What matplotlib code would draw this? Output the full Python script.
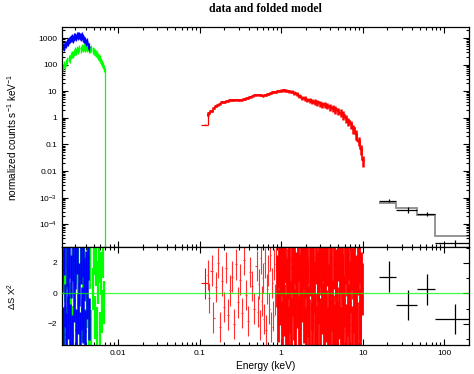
import numpy as np
import matplotlib.pyplot as plt
from matplotlib.ticker import FixedLocator, FixedFormatter, LogLocator, NullFormatter, MultipleLocator

plt.rcParams['font.family'] = ['Liberation Sans', 'DejaVu Sans']
plt.rcParams['mathtext.default'] = 'regular'

# ---- data group 4 (blue) ----
blue_E = [0.00205, 0.00210, 0.00216, 0.00222, 0.00228, 0.00234, 0.00240, 0.00246, 0.00253, 0.00260,
          0.00267, 0.00274, 0.00281, 0.00289, 0.00296, 0.00304, 0.00312, 0.00321, 0.00329, 0.00338,
          0.00347, 0.00356, 0.00366, 0.00375, 0.00385, 0.00396, 0.00406, 0.00417, 0.00428, 0.00440]
blue_flux = [430, 520, 480, 610, 580, 700, 760, 690, 850, 900,
             980, 1050, 960, 1150, 1200, 1100, 1300, 1250, 1350, 1200,
             1150, 1250, 1050, 980, 900, 820, 700, 760, 560, 480]
blue_resid = [1.5, -2.3, 2.6, -0.8, -2.7, 1.9, 0.4, -1.6, 2.4, -2.1,
              1.1, -2.8, 2.2, -0.5, 1.7, -2.4, 2.7, -1.3, 0.6, -2.6,
              2.0, -1.0, 2.5, -1.9, 0.9, -2.5, 1.4, -0.3, 2.3, -1.7]
blue_relerr = 0.3

# ---- data group 3 (green) ----
green_E = [0.00205, 0.00211, 0.00218, 0.00225, 0.00232, 0.00239, 0.00247, 0.00254, 0.00262, 0.00271,
           0.00279, 0.00288, 0.00297, 0.00306, 0.00316, 0.00326, 0.00336, 0.00346, 0.00357, 0.00368,
           0.00380, 0.00392, 0.00404, 0.00417, 0.00430, 0.00443, 0.00457, 0.00471, 0.00486, 0.00501,
           0.00517, 0.00533, 0.00550, 0.00567, 0.00585, 0.00603, 0.00622, 0.00641, 0.00661, 0.00680]
green_flux = [95, 80, 110, 90, 130, 150, 180, 170, 230, 260,
              250, 300, 340, 320, 380, 360, 420, 400, 450, 430,
              480, 440, 470, 420, 450, 400, 380, 410, 350, 330,
              300, 280, 250, 220, 190, 170, 140, 120, 95, 75]
green_resid = [-1.9, 2.1, -2.6, 0.8, 1.6, -2.3, 2.4, -0.7, -1.4, 2.6,
               -2.2, 1.2, -0.2, 2.0, -2.7, 1.5, -1.1, 2.3, -1.8, 0.5,
               2.5, -2.4, 1.0, -0.9, 2.2, -2.0, 1.7, -2.5, 0.3, 2.6,
               -1.6, 1.9, -2.3, 0.7, 2.1, -2.6, 1.3, -1.2, 2.4, -0.6]
green_relerr = 0.3

# ---- data group 2 (red) ----
red_first = dict(E=0.115, lo=0.105, hi=0.125, flux=0.56, resid=0.65)
red_E = [0.125, 0.13, 0.14, 0.15, 0.16, 0.17, 0.18, 0.19, 0.20, 0.22,
         0.24, 0.26, 0.28, 0.30, 0.33, 0.36, 0.39, 0.42, 0.45, 0.48,
         0.52, 0.56, 0.60, 0.65, 0.70, 0.75, 0.80, 0.86, 0.92, 1.0,
         1.08, 1.16, 1.25, 1.35, 1.45, 1.56, 1.68, 1.80, 1.94, 2.08,
         2.24, 2.40, 2.58, 2.78, 3.0, 3.2, 3.45, 3.7, 4.0, 4.3,
         4.6, 5.0, 5.4, 5.8, 6.2, 6.7, 7.2, 7.7, 8.3, 8.9,
         9.5, 10.0]
red_flux = [1.3, 1.5, 1.8, 2.3, 2.8, 3.1, 3.4, 3.8, 3.9, 4.3,
            4.6, 4.7, 4.8, 4.7, 4.8, 5.0, 5.6, 6.2, 6.8, 7.3,
            7.4, 7.0, 6.8, 7.0, 7.8, 8.5, 9.0, 9.6, 10.3, 10.6,
            10.8, 10.5, 10.2, 9.6, 8.8, 8.0, 6.9, 5.6, 5.4, 4.8,
            4.6, 4.3, 4.0, 3.8, 3.5, 3.2, 3.1, 2.9, 2.6, 2.35,
            2.1, 1.85, 1.55, 1.3, 0.98, 0.75, 0.58, 0.4, 0.25, 0.14,
            0.07, 0.025]
red_relerr = [0.08, 0.06, 0.06, 0.05, 0.05, 0.05, 0.05, 0.05, 0.05, 0.05,
              0.05, 0.05, 0.05, 0.05, 0.05, 0.05, 0.05, 0.05, 0.05, 0.05,
              0.06, 0.06, 0.06, 0.06, 0.07, 0.07, 0.08, 0.08, 0.09, 0.10,
              0.11, 0.12, 0.13, 0.14, 0.15, 0.16, 0.17, 0.18, 0.19, 0.20,
              0.21, 0.22, 0.23, 0.24, 0.25, 0.26, 0.27, 0.28, 0.29, 0.30,
              0.31, 0.32, 0.33, 0.34, 0.35, 0.36, 0.37, 0.38, 0.39, 0.40,
              0.42, 0.45]

red_res_E = [0.125, 0.132, 0.140, 0.148, 0.157, 0.167, 0.176, 0.187, 0.198, 0.210,
             0.222, 0.235, 0.249, 0.264, 0.279, 0.296, 0.313, 0.332, 0.351, 0.372,
             0.394, 0.417, 0.442, 0.468,
             0.50, 0.515, 0.53, 0.546, 0.563, 0.58, 0.597, 0.615, 0.633, 0.652,
             0.672, 0.692, 0.713, 0.734, 0.756, 0.779, 0.802, 0.826, 0.851, 0.876,
             0.90, 0.92, 0.945, 0.97, 0.99, 1.015, 1.04, 1.065, 1.09, 1.12,
             1.145, 1.175, 1.20, 1.23, 1.26, 1.29, 1.32, 1.355, 1.39, 1.42,
             1.455, 1.49, 1.53, 1.565, 1.605, 1.645, 1.685, 1.725, 1.77, 1.81,
             1.855, 1.90, 1.95, 2.0, 2.05, 2.10, 2.15, 2.20, 2.25, 2.31,
             2.37, 2.42, 2.48, 2.54, 2.61, 2.67, 2.74, 2.80, 2.87, 2.94,
             3.01, 3.09, 3.16, 3.24, 3.32, 3.40, 3.48, 3.57, 3.66, 3.75,
             3.84, 3.93, 4.03, 4.13, 4.23, 4.33, 4.44, 4.55, 4.66, 4.77,
             4.89, 5.01, 5.13, 5.26, 5.39, 5.52, 5.65, 5.79, 5.93, 6.08,
             6.23, 6.38, 6.53, 6.69, 6.86, 7.02, 7.20, 7.37, 7.55, 7.74,
             7.93, 8.12, 8.32, 8.52, 8.73, 8.95, 9.16, 9.39, 9.62, 9.85]
red_resid = [1.2, -0.3, 1.5, -1.6, 0.4, 2.0, -2.2, 0.8, -0.9, 1.7,
             -1.4, 0.2, 1.1, -2.0, 1.9, -0.6, 0.9, -1.3, 2.2, -0.1,
             -1.8, 1.4, 0.5, -1.0,
             1.8, -1.2, 0.6, -2.1, 2.3, -0.5, 1.0, -1.7, 2.0, -2.4,
             0.3, 1.5, -1.0, 2.5, -2.2, 0.7, -1.5, 1.9, -0.4, 2.4,
             0.8, -1.5, 2.1, -0.4, 1.6, -2.2, 0.3, 1.9, -1.1, 2.4,
             -1.8, 0.6, -2.5, 1.3, 2.2, -0.9, -2.0, 1.7, 0.2, -1.4,
             2.3, -2.4, 1.0, -0.6, 2.5, -1.9, 0.9, -2.3, 1.8, -0.2,
             2.0, -1.6, 1.4, -2.6, 0.5, 2.4, -1.2, -2.1, 1.5, 2.6,
             -0.7, -2.4, 1.9, 0.4, -1.7, 2.3, -2.5, 1.1, -0.3, 2.1,
             -2.0, 1.6, -1.0, 2.5, -2.3, 0.7, 1.8, -1.5, 2.2, -2.6,
             0.2, 1.4, -2.1, 2.4, -0.8, -1.8, 2.0, -2.4, 1.2, 0.6,
             -2.2, 2.5, -1.3, 1.7, -2.5, 0.9, 2.1, -1.9, -0.5, 2.3,
             -2.4, 1.5, -1.1, 2.6, -2.0, 0.4, 1.9, -2.5, 1.3, -0.9,
             2.2, -1.7, 0.8, -2.3, 1.6, 2.4, -1.4, -2.2, 1.0, 0.3]

# ---- data group 1 (black) ----
black_E = [21, 36, 61, 135]
black_edges = [16, 26, 47, 77, 200]
black_flux = [7.8e-4, 3.5e-4, 2.5e-4, 2.0e-5]
black_ferr = [1.2e-4, 0.8e-4, 0.4e-4, 0.6e-5]
black_model = [6.5e-4, 4.1e-4, 2.3e-4, 3.5e-5]
black_resid = [1.1, -0.77, 0.26, -1.7]

BLUE, GREEN, RED = '#0000ff', '#00ff00', '#ff0000'


def xerr_of(e):
    # half bin widths from neighbouring channel centres (log midpoints)
    e = np.asarray(e, float)
    mid = np.sqrt(e[1:] * e[:-1])
    lo = np.concatenate([[e[0] ** 2 / mid[0]], mid])
    hi = np.concatenate([mid, [e[-1] ** 2 / mid[-1]]])
    return np.vstack([e - lo, hi - e])


fig = plt.figure(figsize=(4.74, 3.74), dpi=100)
ax1 = fig.add_axes([0.1308, 0.3396, 0.8576, 0.5882])
ax2 = fig.add_axes([0.1308, 0.0775, 0.8576, 0.2621], sharex=ax1)

# top panel: spectra
bk_x = np.array(black_E)
bk_edges = np.array(black_edges)
bk_xerr = [bk_x - bk_edges[:-1], bk_edges[1:] - bk_x]
ax1.stairs(black_model, black_edges, baseline=None, color='#8c8c8c', lw=1.3)
ax1.errorbar(bk_x, black_flux, xerr=bk_xerr, yerr=black_ferr, fmt='none', ecolor='black', elinewidth=0.9)

first_xerr = [[red_first['E'] - red_first['lo']], [red_first['hi'] - red_first['E']]]
ax1.errorbar([red_first['E']], [red_first['flux']], xerr=first_xerr,
             yerr=[0.04], fmt='none', ecolor=RED, elinewidth=0.9)
rE = np.array(red_E)
rf = np.array(red_flux)
rxe = xerr_of(red_E)
ax1.vlines(red_first['hi'], red_first['flux'], red_flux[0], color=RED, lw=0.9)
ax1.plot(rE, rf, color=RED, lw=1.2, drawstyle='steps-mid')
ax1.errorbar(rE, rf, xerr=rxe, yerr=rf * np.array(red_relerr),
             fmt='none', ecolor=RED, elinewidth=1.8)

gf = np.array(green_flux)
gx = xerr_of(green_E)
ax1.errorbar(green_E, gf, xerr=gx, yerr=gf * green_relerr, fmt='none', ecolor=GREEN, elinewidth=0.9)
ax1.vlines(green_E[-1] + gx[1][-1], 1e-8, green_flux[-1], color=GREEN, lw=0.9)

bf = np.array(blue_flux)
ax1.errorbar(blue_E, bf, xerr=xerr_of(blue_E), yerr=bf * blue_relerr, fmt='none', ecolor=BLUE, elinewidth=0.9)

ax1.set_xscale('log')
ax1.set_yscale('log')
ax1.set_xlim(0.00205, 199)
ax1.set_ylim(1.4e-5, 2600)

yt = [1e-4, 1e-3, 0.01, 0.1, 1, 10, 100, 1000]
ax1.yaxis.set_major_locator(FixedLocator(yt))
ax1.yaxis.set_major_formatter(FixedFormatter(['$10^{-4}$', '$10^{-3}$', '0.01', '0.1', '1', '10', '100', '1000']))
ax1.yaxis.set_minor_locator(LogLocator(base=10, subs=np.arange(2, 10), numticks=20))
ax1.yaxis.set_minor_formatter(NullFormatter())
ax1.set_ylabel('normalized counts s$^{-1}$ keV$^{-1}$', fontsize=7.2)
ax1.set_title('data and folded model', fontsize=8.5, fontweight='bold',
              family=['Liberation Serif', 'DejaVu Serif'], pad=11)
plt.setp(ax1.get_xticklabels(), visible=False)

# bottom panel: residuals (sign(data-model) * delta chi^2)
ax2.errorbar(bk_x, black_resid, xerr=bk_xerr, yerr=1, fmt='none', ecolor='black', elinewidth=0.9)
ax2.errorbar([red_first['E']], [red_first['resid']], xerr=first_xerr,
             yerr=1, fmt='none', ecolor=RED, elinewidth=0.8)
reE = np.array(red_res_E)
reR = np.array(red_resid)
reX = xerr_of(red_res_E)
sparse = reE < 0.9
ax2.errorbar(reE[sparse], reR[sparse], xerr=reX[:, sparse], yerr=1,
             fmt='none', ecolor='#ff3030', elinewidth=0.8)
ax2.errorbar(reE[~sparse], reR[~sparse], xerr=reX[:, ~sparse], yerr=1.7,
             fmt='none', ecolor=RED, elinewidth=2.0)
ax2.errorbar(green_E, green_resid, xerr=xerr_of(green_E), yerr=1.4,
             fmt='none', ecolor=GREEN, elinewidth=1.6)
ax2.errorbar(blue_E, blue_resid, xerr=xerr_of(blue_E), yerr=1.4,
             fmt='none', ecolor=BLUE, elinewidth=1.8)
ax2.axhline(0, color=GREEN, lw=0.9, alpha=0.75, zorder=5)

ax2.set_ylim(-3.4, 3.05)
ax2.yaxis.set_major_locator(FixedLocator([-2, 0, 2]))
ax2.yaxis.set_minor_locator(MultipleLocator(1))
ax2.set_xticks([0.01, 0.1, 1, 10, 100])
ax2.set_xticklabels(['0.01', '0.1', '1', '10', '100'])
ax2.xaxis.set_minor_locator(LogLocator(base=10, subs=np.arange(2, 10), numticks=20))
ax2.xaxis.set_minor_formatter(NullFormatter())
ax2.set_xlabel('Energy (keV)', fontsize=7.3, labelpad=3)
ax2.set_ylabel('ΔS X$^2$', fontsize=6.8)

for ax in (ax1, ax2):
    ax.tick_params(which='both', direction='in', top=True, right=True, labelsize=6, width=0.8, colors='black')
    ax.tick_params(which='major', length=4)
    ax.tick_params(which='minor', length=2)
    for s in ax.spines.values():
        s.set_linewidth(0.9)
ax1.yaxis.set_label_coords(-0.105, 0.5)
ax2.yaxis.set_label_coords(-0.105, 0.5)

fig.savefig('out.png', dpi=100)
